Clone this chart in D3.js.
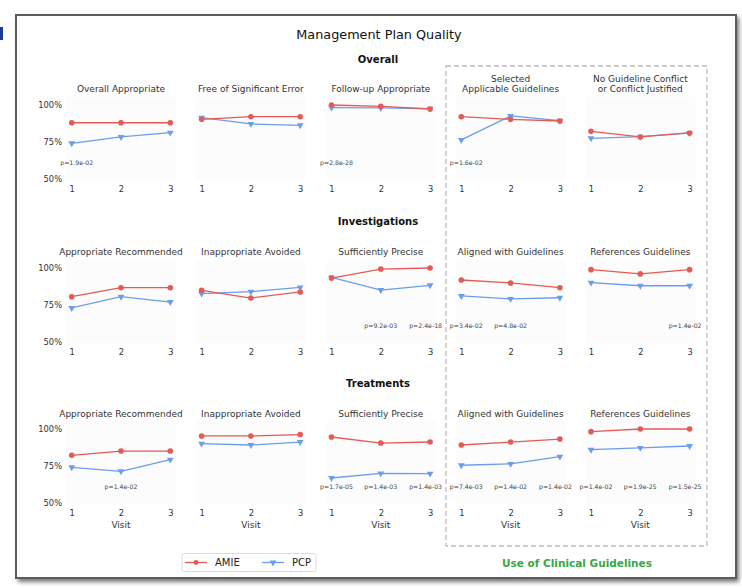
<!DOCTYPE html>
<html>
<head>
<meta charset="utf-8">
<script src="https://cdn.jsdelivr.net/npm/d3@7"></script>
<style>
  html, body { margin: 0; padding: 0; background: #fff; }
  svg { display: block; font-family: "DejaVu Sans", sans-serif; }
</style>
</head>
<body>
<svg id="chart" width="742" height="588"></svg>
<script>
// ---------------- data ----------------
const visits = [1, 2, 3];
const seriesNames = ["AMIE", "PCP"];
const mainTitle = "Management Plan Quality";
const rowTitles = ["Overall", "Investigations", "Treatments"];
const panelTitles = [
  ["Overall Appropriate", "Free of Significant Error", "Follow-up Appropriate", "Selected\nApplicable Guidelines", "No Guideline Conflict\nor Conflict Justified"],
  ["Appropriate Recommended", "Inappropriate Avoided", "Sufficiently Precise", "Aligned with Guidelines", "References Guidelines"],
  ["Appropriate Recommended", "Inappropriate Avoided", "Sufficiently Precise", "Aligned with Guidelines", "References Guidelines"]
];
const amieValues = [
  [[88, 88, 88], [90.3, 92.1, 92.1], [100, 99.1, 97.3], [92.1, 90.3, 89.2], [82.2, 78.4, 81.1]],
  [[80.6, 86.7, 86.7], [84.9, 79.7, 83.8], [93.2, 99.3, 100], [91.9, 89.9, 86.7], [98.9, 96, 98.9]],
  [[82.2, 85.1, 85.1], [95.3, 95.3, 96.2], [94.6, 90.5, 91.2], [89.2, 91.2, 93.2], [98.2, 100, 100]]
];
const pcpValues = [
  [[74.1, 78.4, 81.3], [91.4, 87.2, 86.3], [98.2, 98.0, 97.5], [76.4, 92.6, 89.4], [77.5, 78.6, 81.1]],
  [[73, 80.6, 77], [82.7, 84, 86.9], [93.6, 85.1, 88.3], [81.1, 79.1, 79.9], [90.1, 88, 88]],
  [[74.1, 71.4, 79.3], [90.1, 89.2, 91.2], [66.9, 70, 69.8], [75.5, 76.4, 81.3], [86, 87.2, 88.5]]
];
// [row, panel, visit, label]
const pValues = [
  [0, 0, 1, "p=1.9e-02"], [0, 2, 1, "p=2.8e-28"], [0, 3, 1, "p=1.6e-02"],
  [1, 2, 2, "p=9.2e-03"], [1, 2, 3, "p=2.4e-18"], [1, 3, 1, "p=3.4e-02"], [1, 3, 2, "p=4.8e-02"], [1, 4, 3, "p=1.4e-02"],
  [2, 0, 2, "p=1.4e-02"], [2, 2, 1, "p=1.7e-05"], [2, 2, 2, "p=1.4e-03"], [2, 2, 3, "p=1.4e-03"],
  [2, 3, 1, "p=7.4e-03"], [2, 3, 2, "p=1.4e-02"], [2, 3, 3, "p=1.4e-02"],
  [2, 4, 1, "p=1.4e-02"], [2, 4, 2, "p=1.9e-25"], [2, 4, 3, "p=1.5e-25"]
];
const yTicks = [50, 75, 100];
const yTickLabels = ["50%", "75%", "100%"];
const xLabel = "Visit";
const guidelineLabel = "Use of Clinical Guidelines";

// ---------------- layout ----------------
const colors = { AMIE: "#e45b56", PCP: "#6b9deb" };
const svg = d3.select("#chart");
const defs = svg.append("defs");
defs.append("filter").attr("id", "blur").attr("x", "-5%").attr("y", "-5%").attr("width", "110%").attr("height", "110%")
  .append("feGaussianBlur").attr("stdDeviation", 2);

// artifact mark on the left
svg.append("rect").attr("x", 0).attr("y", 27).attr("width", 3).attr("height", 13).attr("fill", "#1a3f8f");

// frame with shadow
svg.append("rect").attr("x", 18).attr("y", 17).attr("width", 721).attr("height", 565)
  .attr("fill", "#777").attr("filter", "url(#blur)");
svg.append("rect").attr("x", 16).attr("y", 15).attr("width", 720).attr("height", 563)
  .attr("fill", "#fff").attr("stroke", "#5c5c5c").attr("stroke-width", 2);

svg.append("text").attr("x", 379).attr("y", 34).attr("text-anchor", "middle")
  .attr("dominant-baseline", "central").attr("font-size", 12.8).attr("fill", "#111").text(mainTitle);

// dashed guideline box
svg.append("rect").attr("x", 446).attr("y", 66).attr("width", 261).attr("height", 480)
  .attr("fill", "none").attr("stroke", "#bdbdbd").attr("stroke-width", 1.3).attr("stroke-dasharray", "5,3");
svg.append("text").attr("x", 577).attr("y", 563).attr("text-anchor", "middle").attr("dominant-baseline", "central")
  .attr("font-size", 10.5).attr("font-weight", "bold").attr("fill", "#36a846").text(guidelineLabel);

const colX0 = [71.7, 201.6, 331.5, 461.3, 591];   // pixel of visit 1 per column
const visitStep = 49.3;
const rowY100 = [105, 268, 429];
const rowYspan = 74;
const rowHeadY = [59.5, 221.5, 383.5];
const titleY = [89, 252, 414];

const triangle = d3.symbol().type(d3.symbolTriangle).size(20);

rowTitles.forEach((rt, r) => {
  svg.append("text").attr("x", 378).attr("y", rowHeadY[r]).attr("text-anchor", "middle")
    .attr("dominant-baseline", "central").attr("font-size", 10).attr("font-weight", "bold").attr("fill", "#111").text(rt);

  const y = d3.scaleLinear().domain([50, 100]).range([rowY100[r] + rowYspan, rowY100[r]]);

  panelTitles[r].forEach((pt, c) => {
    const x = d3.scaleLinear().domain([1, 3]).range([colX0[c], colX0[c] + 2 * visitStep]);
    const g = svg.append("g");

    // axes background
    g.append("rect").attr("x", x(0.885)).attr("y", y(105.4)).attr("width", x(3.115) - x(0.885))
      .attr("height", y(49.3) - y(105.4)).attr("fill", "#fcfcfc");

    // title
    const lines = pt.split("\n");
    const t = g.append("text").attr("x", x(2)).attr("text-anchor", "middle").attr("font-size", 9).attr("fill", "#333");
    lines.forEach((ln, i) => {
      t.append("tspan").attr("x", x(2)).attr("y", titleY[r] - (lines.length - 1 - i) * 10.5)
        .attr("dominant-baseline", "central").text(ln);
    });

    // x axis
    const xa = g.append("g").attr("transform", `translate(0,${y(50) + 1})`)
      .call(d3.axisBottom(x).tickValues(visits).tickFormat(d3.format("d")).tickSize(0).tickPadding(6));
    xa.select(".domain").remove();
    xa.selectAll("text").attr("font-size", 8.3).attr("fill", "#333").attr("font-family", "DejaVu Sans");

    if (r === 2) {
      g.append("text").attr("x", x(2)).attr("y", 524.5).attr("text-anchor", "middle")
        .attr("dominant-baseline", "central").attr("font-size", 9).attr("fill", "#333").text(xLabel);
    }

    if (c === 0) {
      const ya = g.append("g").attr("transform", `translate(${x(0.885)},0)`)
        .call(d3.axisLeft(y).tickValues(yTicks).tickFormat((d, i) => yTickLabels[i]).tickSize(0).tickPadding(4));
      ya.select(".domain").remove();
      ya.selectAll("text").attr("font-size", 8.3).attr("fill", "#333").attr("font-family", "DejaVu Sans");
    }

    const line = d3.line().x((d, i) => x(visits[i])).y(d => y(d));
    const data = { AMIE: amieValues[r][c], PCP: pcpValues[r][c] };

    // PCP drawn first, AMIE on top
    ["PCP", "AMIE"].forEach(s => {
      g.append("path").datum(data[s]).attr("d", line).attr("fill", "none")
        .attr("stroke", colors[s]).attr("stroke-width", 1.3);
      const m = g.selectAll(null).data(data[s]).enter();
      if (s === "AMIE") {
        m.append("circle").attr("cx", (d, i) => x(visits[i])).attr("cy", d => y(d)).attr("r", 2.8).attr("fill", colors[s]);
      } else {
        m.append("path").attr("d", triangle)
          .attr("transform", (d, i) => `translate(${x(visits[i])},${y(d)}) rotate(180)`).attr("fill", colors[s]);
      }
    });

    // p-values
    pValues.filter(p => p[0] === r && p[1] === c).forEach(p => {
      const off = p[2] === 1 ? 5 : (p[2] === 3 ? -4.5 : 0);
      g.append("text").attr("x", x(p[2]) + off).attr("y", y(61)).attr("text-anchor", "middle")
        .attr("dominant-baseline", "central").attr("font-size", 6.2).attr("fill", "#444").text(p[3]);
    });
  });
});

// legend
const lg = svg.append("g");
lg.append("rect").attr("x", 182).attr("y", 553.5).attr("width", 134).attr("height", 18).attr("rx", 2)
  .attr("fill", "#fff").attr("stroke", "#dcdcdc").attr("stroke-width", 1);
const legendX = { AMIE: 185, PCP: 262 };
seriesNames.forEach(s => {
  const lx = legendX[s], ly = 562.5;
  lg.append("line").attr("x1", lx).attr("x2", lx + 22).attr("y1", ly).attr("y2", ly)
    .attr("stroke", colors[s]).attr("stroke-width", 1.3);
  if (s === "AMIE") {
    lg.append("circle").attr("cx", lx + 11).attr("cy", ly).attr("r", 2.4).attr("fill", colors[s]);
  } else {
    lg.append("path").attr("d", triangle).attr("transform", `translate(${lx + 11},${ly}) rotate(180)`).attr("fill", colors[s]);
  }
  lg.append("text").attr("x", lx + 30).attr("y", ly).attr("dominant-baseline", "central")
    .attr("font-size", 10).attr("fill", "#222").text(s);
});
</script>
</body>
</html>
